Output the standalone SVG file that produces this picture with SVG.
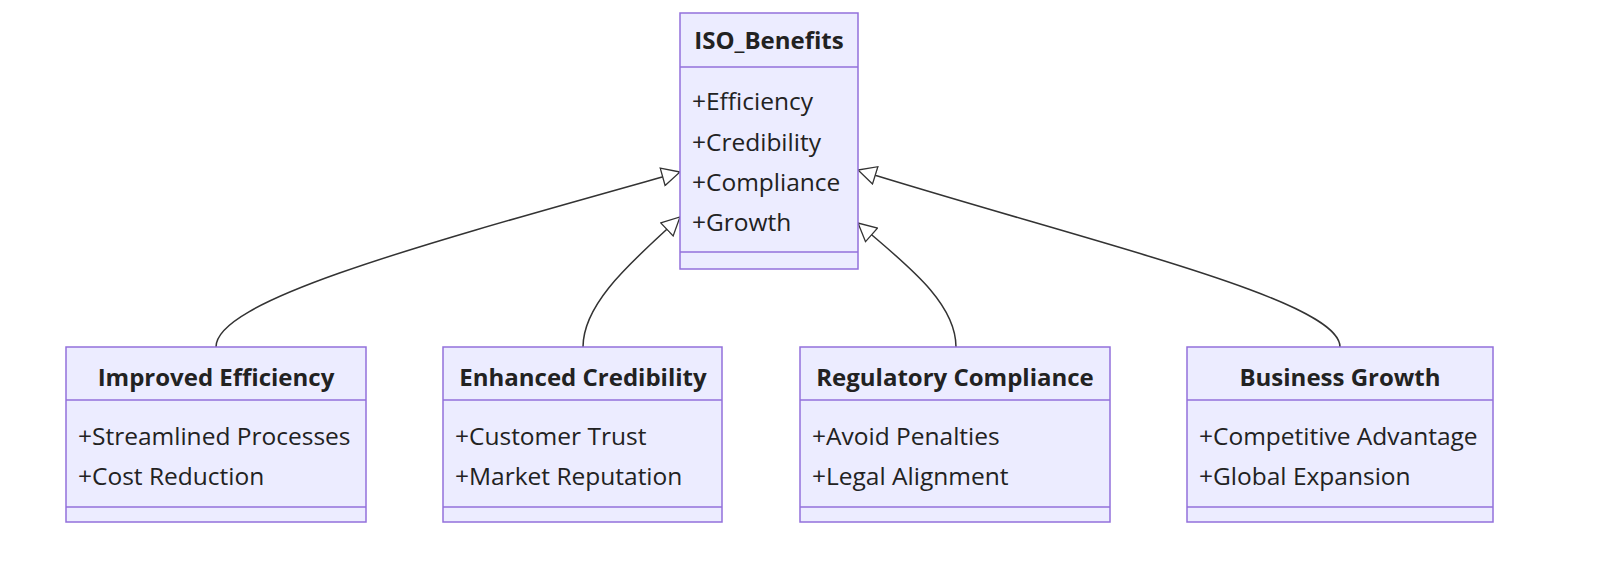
<svg xmlns="http://www.w3.org/2000/svg" width="1600" height="561" viewBox="0 0 1600 561">
<style>
.box{fill:#ECECFF;stroke:#9370DB;stroke-width:1.5}
.ln{stroke:#9370DB;stroke-width:1.5}
.t{font-family:"Open Sans",sans-serif;font-size:24.5px;fill:#222}
.b{font-weight:bold;text-anchor:middle;font-size:24px}
.c{fill:none;stroke:#333;stroke-width:1.5}
</style>
<defs><marker id="tri" viewBox="0 0 20 20" refX="19" refY="10" markerWidth="20" markerHeight="20" markerUnits="userSpaceOnUse" orient="auto"><path d="M1,1 L19,10 L1,19 Z" fill="#fff" stroke="#333" stroke-width="1.3"/></marker></defs>
<rect width="1600" height="561" fill="#fff"/>
<g id="connectors">
<path class="c" d="M216,347 C216,300 420,245 680,172" marker-end="url(#tri)"/>
<path class="c" d="M583,347 C583,300 640,255 680,217" marker-end="url(#tri)"/>
<path class="c" d="M956,347 C956,300 900,260 858,223" marker-end="url(#tri)"/>
<path class="c" d="M1340,347 C1340,300 1100,245 858,170" marker-end="url(#tri)"/>
</g>
<g id="ISO_Benefits">
<rect class="box" x="680" y="13" width="178" height="256"/>
<line class="ln" x1="680" y1="67" x2="858" y2="67"/><line class="ln" x1="680" y1="252" x2="858" y2="252"/>
<text class="t b" x="769" y="49">ISO_Benefits</text>
<text class="t" x="692" y="110">+Efficiency</text><text class="t" x="692" y="151">+Credibility</text>
<text class="t" x="692" y="191">+Compliance</text><text class="t" x="692" y="231">+Growth</text>
</g>
<g id="ImprovedEfficiency">
<rect class="box" x="66" y="347" width="300" height="175"/>
<line class="ln" x1="66" y1="400" x2="366" y2="400"/><line class="ln" x1="66" y1="507" x2="366" y2="507"/>
<text class="t b" x="216" y="386">Improved Efficiency</text>
<text class="t" x="78" y="445">+Streamlined Processes</text><text class="t" x="78" y="485">+Cost Reduction</text>
</g>
<g id="EnhancedCredibility">
<rect class="box" x="443" y="347" width="279" height="175"/>
<line class="ln" x1="443" y1="400" x2="722" y2="400"/><line class="ln" x1="443" y1="507" x2="722" y2="507"/>
<text class="t b" x="583" y="386">Enhanced Credibility</text>
<text class="t" x="455" y="445">+Customer Trust</text><text class="t" x="455" y="485">+Market Reputation</text>
</g>
<g id="RegulatoryCompliance">
<rect class="box" x="800" y="347" width="310" height="175"/>
<line class="ln" x1="800" y1="400" x2="1110" y2="400"/><line class="ln" x1="800" y1="507" x2="1110" y2="507"/>
<text class="t b" x="955" y="386">Regulatory Compliance</text>
<text class="t" x="812" y="445">+Avoid Penalties</text><text class="t" x="812" y="485">+Legal Alignment</text>
</g>
<g id="BusinessGrowth">
<rect class="box" x="1187" y="347" width="306" height="175"/>
<line class="ln" x1="1187" y1="400" x2="1493" y2="400"/><line class="ln" x1="1187" y1="507" x2="1493" y2="507"/>
<text class="t b" x="1340" y="386">Business Growth</text>
<text class="t" x="1199" y="445">+Competitive Advantage</text><text class="t" x="1199" y="485">+Global Expansion</text>
</g>
</svg>
